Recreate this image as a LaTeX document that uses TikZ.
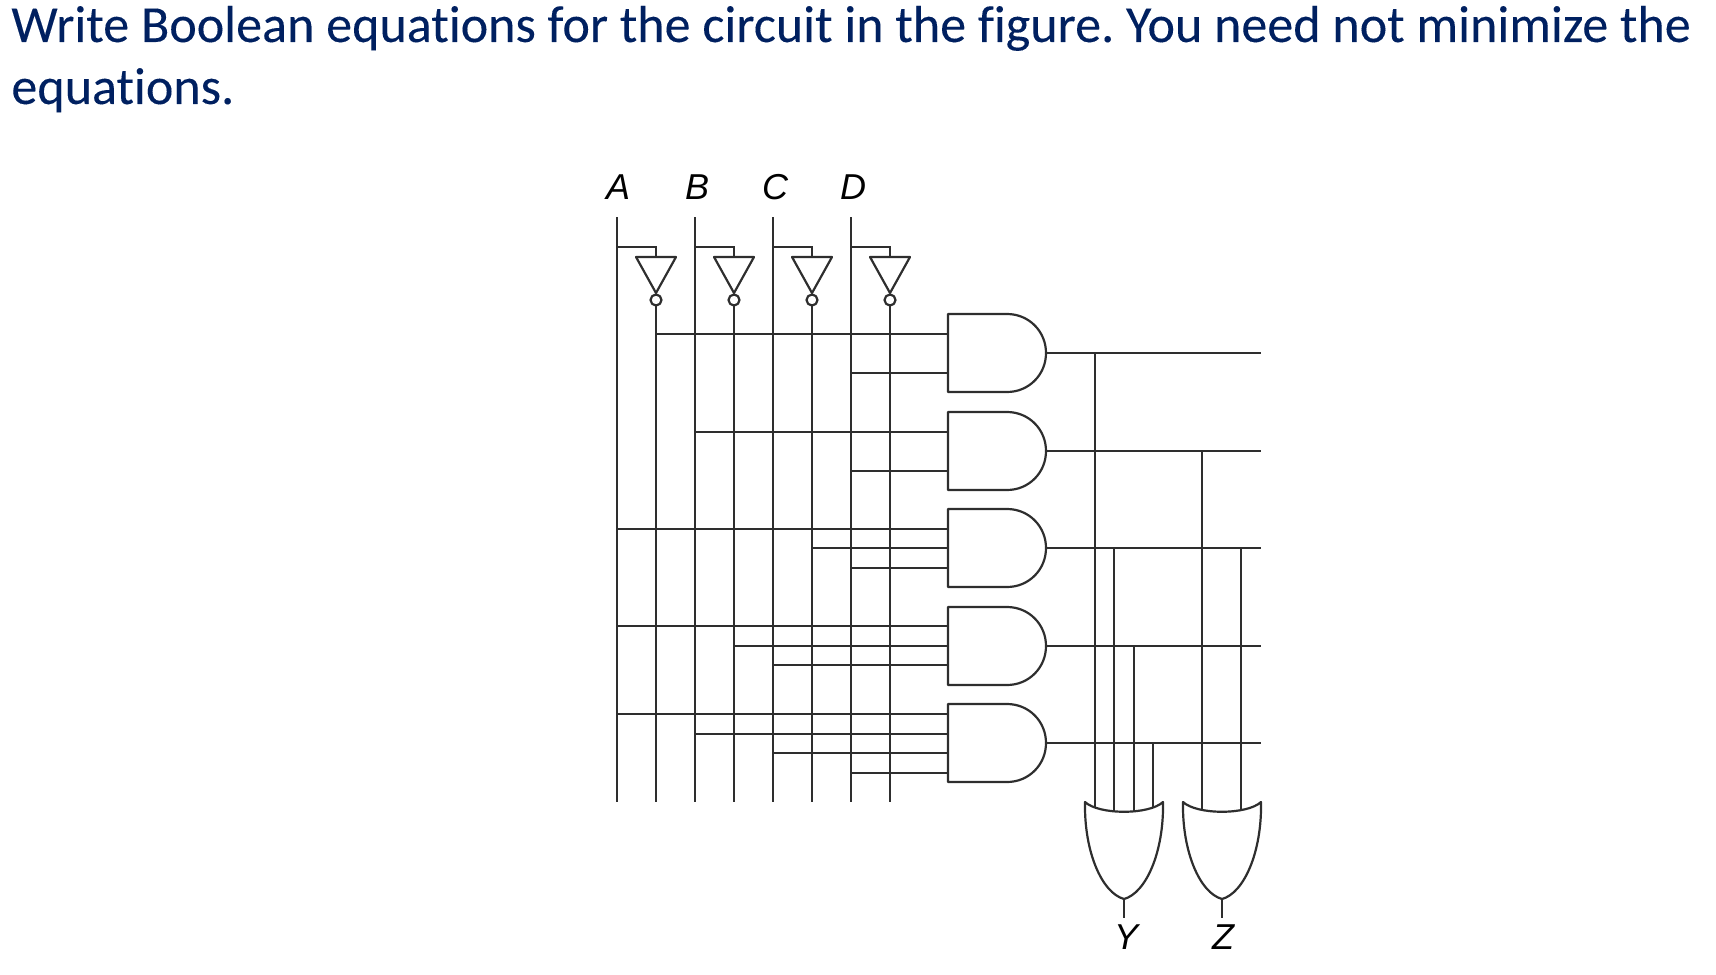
\documentclass[tikz,border=0pt]{standalone}
\usepackage{fontspec}
\setmainfont[Ligatures=NoCommon,FakeBold=0.12]{Carlito}
\newfontfamily\labelfont{Liberation Sans}
\usepackage{xcolor}
\definecolor{titlenavy}{HTML}{002060}
\definecolor{wirecol}{HTML}{2E2E2E}
\usetikzlibrary{calc}
\frenchspacing
\tikzset{
    wire/.style={draw=wirecol, line width=1.1pt},
    gate/.style={draw=wirecol, line width=1.1pt, fill=white, line join=round},
    titletext/.style={anchor=base west, inner sep=0pt, text=titlenavy, font=\fontsize{26.05}{30}\selectfont},
    siglabel/.style={inner sep=0pt, font=\fontsize{18}{20}\selectfont\labelfont\itshape},
    andgate/.pic={
        \draw[gate] (0,-39) -- (59,-39) .. controls (81,-39) and (98,-21.5) .. (98,0)
            .. controls (98,21.5) and (81,39) .. (59,39) -- (0,39) -- cycle;
        \coordinate (-out) at (98,0);
    },
    orgate/.pic={
        \draw[gate] (-39,0) .. controls (-25,13) and (25,13) .. (39,0)
            .. controls (40,50) and (22,91) .. (0,97)
            .. controls (-22,91) and (-40,50) .. (-39,0) -- cycle;
        \coordinate (-out) at (0,97);
    },
    notgate/.pic={
        \draw[gate] (-20,0) -- (20,0) -- (0,36) -- cycle;
        \draw[gate] (0,43) circle (5.5);
        \coordinate (-in) at (0,0);
        \coordinate (-out) at (0,48);
    }
}

\begin{document}
\begin{tikzpicture}[x=0.5pt, y=-0.5pt]
    \useasboundingbox (0,0) rectangle (1716,974);

    \node[titletext] (title1) at (11,42) {Write Boolean equations for the circuit in the figure. You need not minimize the};
    \node[titletext] (title2) at (11,104) {equations.};

    \node[siglabel] (lblA) at (618,187) {A};
    \node[siglabel] (lblB) at (697,187) {B};
    \node[siglabel] (lblC) at (775,187) {C};
    \node[siglabel] (lblD) at (853,187) {D};

    \coordinate (railend) at (0,802);
    \coordinate (A) at (617,217);
    \coordinate (B) at (695,217);
    \coordinate (C) at (773,217);
    \coordinate (D) at (851,217);

    \pic (invA) at (656,257) {notgate};
    \pic (invB) at (734,257) {notgate};
    \pic (invC) at (812,257) {notgate};
    \pic (invD) at (890,257) {notgate};

    % true rails, stubs and inverted rails
    \foreach \sig in {A,B,C,D} {
        \draw[wire] (\sig) -- (\sig |- railend);
        \draw[wire] (\sig |- 0,247) -| (inv\sig-in);
        \draw[wire] (inv\sig-out) -- (inv\sig-out |- railend);
    }

    \coordinate (and1) at (948,353);
    \coordinate (and2) at (948,451);
    \coordinate (and3) at (948,548);
    \coordinate (and4) at (948,646);
    \coordinate (and5) at (948,743);

    % gate inputs
    \draw[wire] (invA-out |- 0,334) -- (948,334);
    \draw[wire] (D |- 0,373) -- (948,373);

    \draw[wire] (B |- 0,432) -- (948,432);
    \draw[wire] (D |- 0,471) -- (948,471);

    \draw[wire] (A |- 0,529) -- (948,529);
    \draw[wire] (invC-out |- 0,548) -- (948,548);
    \draw[wire] (D |- 0,568) -- (948,568);

    \draw[wire] (A |- 0,626) -- (948,626);
    \draw[wire] (invB-out |- 0,646) -- (948,646);
    \draw[wire] (C |- 0,665) -- (948,665);

    \draw[wire] (A |- 0,714) -- (948,714);
    \draw[wire] (B |- 0,734) -- (948,734);
    \draw[wire] (C |- 0,753) -- (948,753);
    \draw[wire] (D |- 0,773) -- (948,773);

    \pic (g1) at (and1) {andgate};
    \pic (g2) at (and2) {andgate};
    \pic (g3) at (and3) {andgate};
    \pic (g4) at (and4) {andgate};
    \pic (g5) at (and5) {andgate};

    % outputs
    \coordinate (outend) at (1261,0);
    \foreach \g in {g1,g2,g3,g4,g5}
        \draw[wire] (\g-out) -- (\g-out -| outend);

    % or gate inputs
    \draw[wire] (1095,353) -- (1095,812);
    \draw[wire] (1114,548) -- (1114,812);
    \draw[wire] (1134,646) -- (1134,812);
    \draw[wire] (1153,743) -- (1153,812);
    \draw[wire] (1202,451) -- (1202,812);
    \draw[wire] (1241,548) -- (1241,812);

    \pic (orY) at (1124,802) {orgate};
    \pic (orZ) at (1222,802) {orgate};

    \node[siglabel] (lblY) at (1126,937) {Y};
    \node[siglabel] (lblZ) at (1223,937) {Z};
    \draw[wire] (orY-out) -- (orY-out |- 0,918);
    \draw[wire] (orZ-out) -- (orZ-out |- 0,918);
\end{tikzpicture}
\end{document}
